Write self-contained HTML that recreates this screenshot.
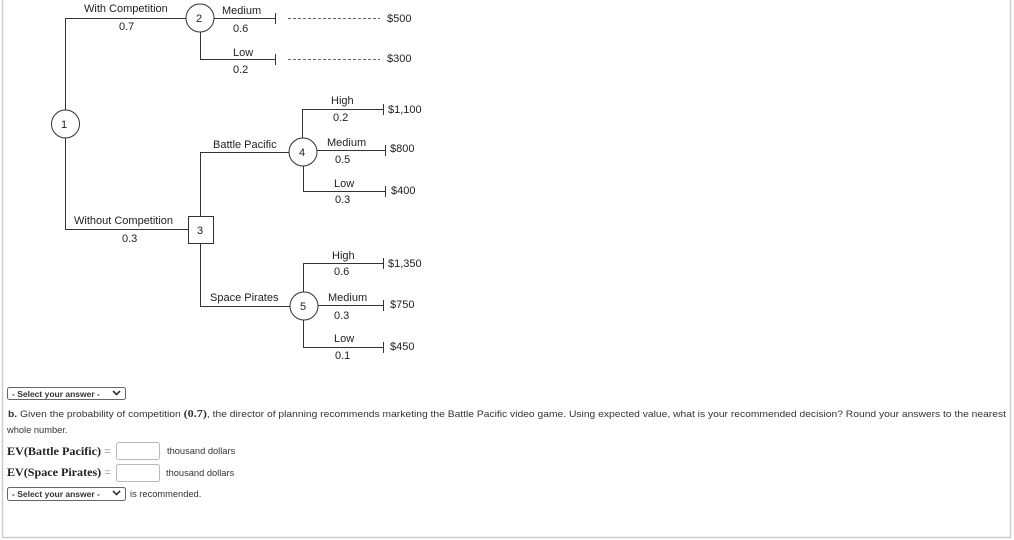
<!DOCTYPE html>
<html><head><meta charset="utf-8"><style>
html,body{margin:0;padding:0;background:#fff;}
svg{display:block;font-family:"Liberation Sans",sans-serif;}
</style></head><body>
<svg width="1014" height="540" viewBox="0 0 1014 540" xmlns="http://www.w3.org/2000/svg">
<rect x="0" y="0" width="1014" height="540" fill="#fff"/>
<line x1="2.5" y1="0" x2="2.5" y2="537" stroke="#ccc" stroke-width="1.5"/>
<line x1="1010.5" y1="0" x2="1010.5" y2="537" stroke="#ccc" stroke-width="1.5"/>
<line x1="2" y1="537.5" x2="1011" y2="537.5" stroke="#ccc" stroke-width="1.5"/>
<g stroke="#333" stroke-width="1" fill="none">
<polyline points="186,18.5 65.5,18.5 65.5,110"/>
<polyline points="65.5,138 65.5,229.5 188,229.5"/>
<circle cx="65.5" cy="124" r="14" fill="#fff"/>
<circle cx="200" cy="18" r="14" fill="#fff"/>
<line x1="214" y1="18.5" x2="275" y2="18.5"/><line x1="275.5" y1="13" x2="275.5" y2="24"/>
<polyline points="200.5,32 200.5,59.5 275,59.5"/><line x1="275.5" y1="54" x2="275.5" y2="65"/>
<line x1="288" y1="18.5" x2="380" y2="18.5" stroke-dasharray="3,2" stroke="#666"/>
<line x1="288" y1="59.5" x2="380" y2="59.5" stroke-dasharray="3,2" stroke="#666"/>
<rect x="188.5" y="216.5" width="25" height="27" fill="#fff"/>
<polyline points="200.5,216 200.5,152.5 289,152.5"/>
<polyline points="200.5,244 200.5,306.5 290,306.5"/>
<circle cx="303" cy="152" r="14" fill="#fff"/>
<polyline points="302.5,138 302.5,109.5 383,109.5"/><line x1="383.5" y1="104" x2="383.5" y2="115"/>
<line x1="317" y1="150.5" x2="385" y2="150.5"/><line x1="385.5" y1="145" x2="385.5" y2="156"/>
<polyline points="303.5,166 303.5,191.5 385,191.5"/><line x1="385.5" y1="186" x2="385.5" y2="197"/>
<circle cx="304" cy="306" r="14" fill="#fff"/>
<polyline points="303.5,292 303.5,263.5 383,263.5"/><line x1="383.5" y1="258" x2="383.5" y2="269"/>
<line x1="318" y1="305.5" x2="383" y2="305.5"/><line x1="383.5" y1="300" x2="383.5" y2="311"/>
<polyline points="303.5,320 303.5,347.5 383,347.5"/><line x1="383.5" y1="342" x2="383.5" y2="353"/>
</g>
<g font-size="11" fill="#222">
<text x="84" y="12">With Competition</text>
<text x="119" y="30">0.7</text>
<text x="61" y="128">1</text>
<text x="196" y="22">2</text>
<text x="222" y="14">Medium</text>
<text x="233" y="32">0.6</text>
<text x="233" y="56">Low</text>
<text x="233" y="73">0.2</text>
<text x="387" y="22">$500</text>
<text x="387" y="62">$300</text>
<text x="331" y="104">High</text>
<text x="333" y="121">0.2</text>
<text x="388" y="113">$1,100</text>
<text x="213" y="148">Battle Pacific</text>
<text x="299" y="156">4</text>
<text x="327" y="146">Medium</text>
<text x="335" y="163">0.5</text>
<text x="390" y="152">$800</text>
<text x="334" y="187">Low</text>
<text x="335" y="203">0.3</text>
<text x="391" y="194">$400</text>
<text x="74" y="224">Without Competition</text>
<text x="122" y="242">0.3</text>
<text x="197" y="234">3</text>
<text x="332" y="259">High</text>
<text x="334" y="275">0.6</text>
<text x="388" y="267">$1,350</text>
<text x="210" y="301">Space Pirates</text>
<text x="300" y="310">5</text>
<text x="328" y="301">Medium</text>
<text x="334" y="319">0.3</text>
<text x="390" y="308">$750</text>
<text x="334" y="342">Low</text>
<text x="335" y="359">0.1</text>
<text x="390" y="350">$450</text>
</g>
<rect x="7.5" y="387.5" width="118" height="12" rx="2" fill="#fff" stroke="#666"/>
<text x="12" y="397" font-size="8.5" font-weight="bold" fill="#333">- Select your answer -</text>
<path d="M113,391 l3.5,3.5 l3.5,-3.5" stroke="#333" stroke-width="1.6" fill="none"/>
<text x="8" y="417" font-size="9.3" fill="#333" textLength="998" lengthAdjust="spacingAndGlyphs"><tspan font-weight="bold">b.</tspan> Given the probability of competition <tspan font-family="Liberation Serif" font-weight="bold" font-size="11">(0.7)</tspan>, the director of planning recommends marketing the Battle Pacific video game. Using expected value, what is your recommended decision? Round your answers to the nearest</text>
<text x="7" y="433" font-size="9.3" fill="#333">whole number.</text>
<text x="7" y="455" font-size="11.5" font-family="Liberation Serif" font-weight="bold" fill="#222" textLength="104" lengthAdjust="spacingAndGlyphs">EV(Battle Pacific) <tspan font-weight="normal" fill="#888">=</tspan></text>
<rect x="116.5" y="442.5" width="43" height="17" rx="2" fill="#fff" stroke="#bbb"/>
<text x="167" y="454" font-size="9.3" fill="#333">thousand dollars</text>
<text x="7" y="476" font-size="11.5" font-family="Liberation Serif" font-weight="bold" fill="#222" textLength="104" lengthAdjust="spacingAndGlyphs">EV(Space Pirates) <tspan font-weight="normal" fill="#888">=</tspan></text>
<rect x="116.5" y="464.5" width="43" height="17" rx="2" fill="#fff" stroke="#bbb"/>
<text x="166" y="476" font-size="9.3" fill="#333">thousand dollars</text>
<rect x="7.5" y="487.5" width="118" height="13" rx="2" fill="#fff" stroke="#666"/>
<text x="12" y="497" font-size="8.5" font-weight="bold" fill="#333">- Select your answer -</text>
<path d="M113,491 l3.5,3.5 l3.5,-3.5" stroke="#333" stroke-width="1.6" fill="none"/>
<text x="130" y="497" font-size="9.3" fill="#333">is recommended.</text>
</svg>
</body></html>
